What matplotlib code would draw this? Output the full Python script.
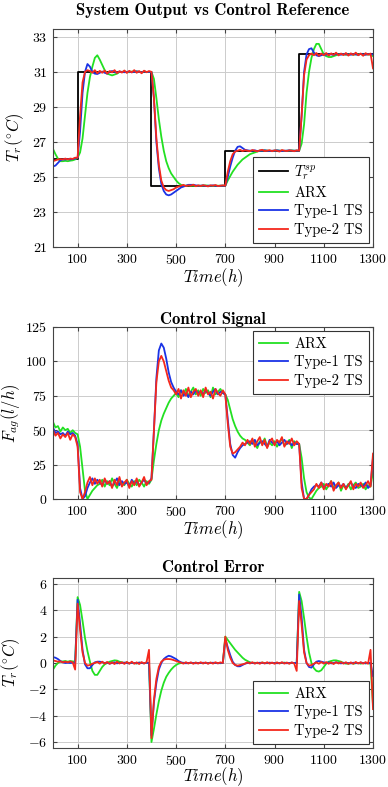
import matplotlib
matplotlib.use("Agg")
import matplotlib.pyplot as plt
import numpy as np

# time axis (h), one sample every 10 h
t = np.arange(0, 1301, 10)

# setpoint T_r^sp
sp_t = [0, 100, 100, 400, 400, 700, 700, 1000, 1000, 1300]
sp_v = [26, 26, 31, 31, 24.5, 24.5, 26.5, 26.5, 32, 32]

# system output T_r
tr_arx = [
    26.6, 26.3, 26.05, 25.9, 25.9, 25.92, 25.9, 25.93, 25.95, 26.0,
    26.1, 26.4, 27.2, 28.5, 29.8, 30.7, 31.3, 31.8, 31.95, 31.7,
    31.4, 31.1, 30.9, 30.85, 30.8, 30.85, 30.9, 31.0, 31.0, 31.02,
    31.0, 30.98, 31.02, 31.0, 31.03, 31.0, 30.98, 31.02, 31.0, 31.0,
    31.0, 30.6, 29.5, 28.3, 27.3, 26.5, 25.9, 25.5, 25.2, 25.0,
    24.8, 24.65, 24.55, 24.5, 24.5, 24.52, 24.5, 24.5, 24.48, 24.5,
    24.5, 24.5, 24.52, 24.5, 24.5, 24.48, 24.5, 24.5, 24.5, 24.5,
    24.5, 24.8, 25.05, 25.3, 25.5, 25.7, 25.85, 26.0, 26.1, 26.2,
    26.3, 26.35, 26.4, 26.45, 26.5, 26.5, 26.52, 26.5, 26.5, 26.48,
    26.5, 26.52, 26.5, 26.5, 26.48, 26.5, 26.5, 26.52, 26.5, 26.5,
    26.5, 26.9, 28.0, 29.8, 31.0, 31.8, 32.3, 32.6, 32.6, 32.3,
    32.0, 31.9, 31.85, 31.85, 31.9, 31.95, 32.0, 32.02, 32.0, 31.98,
    32.0, 32.02, 31.98, 32.0, 32.0, 32.02, 31.98, 32.0, 32.0, 31.98,
    31.9]
tr_t1 = [
    25.6, 25.65, 25.8, 25.95, 26.0, 26.0, 26.02, 26.0, 26.03, 26.05,
    26.1, 27.6, 29.8, 31.0, 31.45, 31.3, 31.0, 30.9, 30.88, 30.95,
    31.02, 30.95, 30.9, 31.0, 31.05, 31.0, 30.95, 31.02, 31.0, 30.98,
    31.0, 31.02, 30.98, 31.0, 31.03, 31.0, 30.98, 31.02, 31.0, 31.0,
    31.0, 29.5, 27.0, 25.5, 24.6, 24.2, 24.0, 23.95, 24.0, 24.1,
    24.2, 24.3, 24.4, 24.45, 24.5, 24.55, 24.55, 24.55, 24.52, 24.5,
    24.5, 24.52, 24.48, 24.5, 24.5, 24.52, 24.5, 24.48, 24.5, 24.5,
    24.5, 25.0, 25.6, 26.1, 26.5, 26.72, 26.75, 26.65, 26.55, 26.52,
    26.5, 26.5, 26.52, 26.48, 26.5, 26.5, 26.52, 26.5, 26.48, 26.5,
    26.5, 26.52, 26.5, 26.48, 26.5, 26.5, 26.52, 26.5, 26.5, 26.5,
    26.5, 28.5, 31.0, 32.0, 32.3, 32.35, 32.1, 31.95, 31.9, 31.95,
    32.0, 31.98, 32.02, 32.0, 31.97, 32.03, 32.0, 31.98, 32.02, 32.0,
    32.0, 31.98, 32.02, 32.0, 31.97, 32.03, 32.0, 31.98, 32.02, 32.0,
    32.0]
tr_t2 = [
    25.9, 25.95, 26.0, 26.02, 26.0, 26.05, 26.0, 26.05, 26.03, 26.1,
    26.1, 28.5, 30.4, 31.0, 31.1, 31.05, 30.95, 31.1, 30.92, 31.06,
    30.95, 31.08, 30.9, 31.05, 30.97, 31.1, 30.93, 31.04, 30.96, 31.08,
    30.94, 31.06, 30.97, 31.1, 30.95, 31.05, 30.92, 31.07, 30.98, 31.05,
    31.0, 29.5, 27.2, 25.7, 24.8, 24.4, 24.25, 24.2, 24.25, 24.3,
    24.4, 24.45, 24.5, 24.55, 24.48, 24.52, 24.5, 24.56, 24.47, 24.52,
    24.48, 24.53, 24.5, 24.46, 24.52, 24.5, 24.54, 24.48, 24.5, 24.52,
    24.5, 25.3, 25.9, 26.3, 26.45, 26.5, 26.55, 26.48, 26.53, 26.5,
    26.47, 26.54, 26.5, 26.46, 26.52, 26.55, 26.48, 26.5, 26.53, 26.47,
    26.52, 26.5, 26.45, 26.54, 26.5, 26.48, 26.52, 26.5, 26.47, 26.52,
    26.5, 28.5, 30.8, 31.7, 31.95, 32.05, 31.95, 32.08, 31.92, 32.05,
    31.95, 32.08, 31.93, 32.06, 31.97, 32.1, 31.94, 32.05, 31.96, 32.08,
    31.93, 32.06, 31.97, 32.1, 31.95, 32.05, 31.92, 32.07, 31.98, 32.05,
    31.2]

# control signal F_ag (l/h)
ctrl_arx = [
    56, 52, 53, 49, 52, 50, 51, 48, 50, 48,
    47, 38, 22, 6, 0, 3, 6, 8, 10, 11,
    14, 9, 13, 10, 15, 11, 8, 13, 12, 10,
    14, 11, 9, 13, 10, 14, 12, 9, 13, 11,
    14, 28, 40, 50, 57, 62, 66, 70, 73, 75,
    77, 74, 79, 76, 80, 75, 78, 81, 76, 79,
    75, 80, 77, 79, 74, 81, 76, 78, 80, 77,
    76, 72, 65, 58, 53, 49, 46, 44, 43, 41,
    39, 43, 40, 37, 42, 40, 44, 38, 41, 39,
    42, 38, 41, 44, 39, 40, 43, 37, 42, 40,
    40, 30, 15, 5, 1, 0, 3, 6, 8, 9,
    11, 7, 10, 13, 8, 9, 12, 6, 10, 8,
    11, 7, 10, 12, 8, 9, 11, 7, 10, 9,
    20]
ctrl_t1 = [
    52, 48, 49, 47, 48, 46, 49, 47, 48, 46,
    40, 8, 0, 2, 8, 12, 15, 11, 14, 12,
    10, 14, 11, 13, 9, 12, 15, 10, 13, 11,
    12, 9, 14, 11, 13, 10, 12, 14, 11, 12,
    15, 50, 88, 108, 113, 110, 102, 92, 85, 81,
    78, 76, 79, 75, 77, 74, 78, 76, 79, 77,
    78, 76, 79, 77, 75, 78, 80, 76, 78, 77,
    76, 58, 40, 32, 30, 34, 37, 39, 40, 41,
    42, 40, 43, 39, 41, 42, 40, 38, 43, 41,
    40, 42, 39, 41, 43, 40, 42, 39, 41, 40,
    40, 12, 0, 0, 3, 7, 9, 10, 9, 12,
    8, 10, 11, 9, 12, 8, 10, 9, 11, 8,
    10, 12, 9, 8, 11, 10, 9, 12, 8, 10,
    30]
ctrl_t2 = [
    50, 46, 48, 44, 47, 45, 48, 43, 47, 45,
    38, 5, 0, 5, 12, 16, 10, 15, 11, 14,
    9, 15, 11, 13, 8, 14, 10, 16, 9, 12,
    14, 8, 13, 10, 15, 9, 12, 16, 10, 13,
    14, 50, 85, 100, 104, 100, 93, 86, 81, 79,
    76, 80, 73, 79, 75, 81, 74, 78, 80, 75,
    79, 74, 81, 76, 78, 73, 80, 77, 75, 79,
    76, 55, 38, 33, 34, 36, 38, 41, 39, 43,
    40, 44, 38, 42, 45, 39, 43, 37, 42, 44,
    39, 43, 41, 45, 38, 42, 40, 44, 39, 42,
    40, 8, 0, 0, 3, 5, 7, 11, 8, 12,
    7, 11, 9, 13, 6, 10, 12, 8, 11, 7,
    10, 13, 7, 11, 9, 12, 8, 10, 13, 9,
    33]

# control error
err_arx = [
    -0.5, -0.2, 0.0, 0.1, 0.12, 0.15, 0.1, 0.15, 0.12, 0.1,
    5.0, 4.4, 3.2, 1.9, 0.9, 0.1, -0.6, -0.9, -0.9, -0.6,
    -0.3, -0.1, 0.0, 0.1, 0.15, 0.2, 0.18, 0.1, 0.05, 0.0,
    0.05, -0.03, 0.02, 0.0, -0.04, 0.03, 0.0, -0.02, 0.03, 0.0,
    -6.0, -5.0, -3.9, -2.9, -2.1, -1.5, -1.05, -0.75, -0.5, -0.3,
    -0.15, -0.05, 0.0, 0.02, 0.0, -0.02, 0.01, 0.0, 0.02, 0.0,
    0.0, -0.02, 0.01, 0.0, 0.02, -0.01, 0.0, 0.01, -0.02, 0.0,
    2.0, 1.75, 1.5, 1.25, 1.0, 0.8, 0.6, 0.4, 0.25, 0.15,
    0.05, 0.0, 0.02, -0.02, 0.0, 0.03, 0.0, -0.02, 0.02, 0.0,
    0.0, 0.02, -0.02, 0.0, 0.03, 0.0, -0.02, 0.02, 0.0, 0.0,
    5.4, 4.7, 3.4, 2.0, 0.8, 0.0, -0.4, -0.6, -0.65, -0.55,
    -0.3, -0.05, 0.1, 0.15, 0.2, 0.2, 0.15, 0.1, 0.0, -0.05,
    -0.05, 0.0, -0.05, -0.02, 0.0, -0.05, 0.0, -0.03, 0.0, -0.05,
    -3.2]
err_t1 = [
    0.45, 0.4, 0.3, 0.15, 0.05, 0.0, 0.02, 0.0, 0.02, 0.0,
    4.8, 3.0, 1.0, -0.1, -0.4, -0.4, -0.15, 0.05, 0.1, 0.1,
    0.05, 0.0, 0.03, -0.05, 0.0, 0.05, -0.03, 0.02, 0.0, 0.03,
    0.0, -0.03, 0.02, 0.0, -0.02, 0.03, 0.0, -0.02, 0.02, 0.0,
    -5.5, -3.0, -1.5, -0.5, 0.0, 0.3, 0.45, 0.55, 0.5, 0.4,
    0.3, 0.15, 0.05, 0.0, -0.02, 0.0, 0.02, 0.0, -0.02, 0.0,
    0.0, 0.02, 0.0, -0.02, 0.0, 0.02, 0.0, -0.02, 0.0, 0.0,
    1.8, 1.2, 0.6, 0.1, -0.15, -0.25, -0.25, -0.15, -0.05, 0.0,
    0.02, 0.0, -0.02, 0.0, 0.02, 0.0, -0.02, 0.0, 0.02, 0.0,
    0.0, -0.02, 0.0, 0.02, 0.0, -0.02, 0.0, 0.02, 0.0, 0.0,
    5.2, 3.5, 1.0, 0.0, -0.3, -0.35, -0.1, 0.1, 0.15, 0.1,
    0.05, 0.0, 0.05, -0.03, 0.0, 0.05, 0.0, -0.03, 0.02, 0.0,
    0.0, -0.03, 0.02, 0.0, -0.02, 0.03, 0.0, -0.02, 0.0, 0.0,
    -1.0]
err_t2 = [
    0.2, 0.15, 0.1, 0.12, 0.05, 0.1, 0.05, 0.12, 0.05, -0.5,
    4.5, 2.5, 0.8, 0.0, -0.2, -0.15, -0.05, 0.0, 0.08, -0.05,
    0.1, -0.05, 0.08, -0.06, 0.05, -0.08, 0.1, -0.04, 0.06, -0.07,
    0.08, -0.05, 0.1, -0.06, 0.05, -0.08, 0.07, -0.04, 0.06, 1.0,
    -5.7, -2.8, -1.2, -0.3, 0.1, 0.25, 0.3, 0.3, 0.28, 0.22,
    0.15, 0.08, 0.03, -0.05, 0.06, -0.04, 0.05, -0.06, 0.04, -0.05,
    0.06, -0.04, 0.05, -0.06, 0.04, -0.05, 0.06, -0.03, 0.05, 0.0,
    2.0, 1.0, 0.4, 0.0, -0.15, -0.2, -0.15, -0.1, -0.05, 0.05,
    -0.04, 0.06, -0.05, 0.04, -0.06, 0.05, -0.04, 0.06, -0.05, 0.04,
    -0.06, 0.05, -0.04, 0.06, -0.05, 0.04, -0.06, 0.05, -0.04, -0.6,
    4.7, 2.9, 0.8, 0.0, -0.2, -0.15, -0.05, 0.05, -0.06, 0.08,
    -0.05, 0.07, -0.06, 0.05, -0.08, 0.06, -0.04, 0.07, -0.05, 0.06,
    -0.07, 0.05, -0.06, 0.08, -0.04, 0.06, -0.05, 0.07, -0.06, 1.0,
    -3.5]

x_ticks = [100, 300, 500, 700, 900, 1100, 1300]
labels = ["ARX", "Type-1 TS", "Type-2 TS"]
colors = ["#22e022", "#1a33e6", "#f5281c"]

plt.rcParams["font.family"] = "serif"
plt.rcParams["font.serif"] = ["cmr10"]
plt.rcParams["mathtext.fontset"] = "cm"
plt.rcParams["axes.formatter.use_mathtext"] = True
plt.rcParams["font.size"] = 10

W, H = 388, 787
fig = plt.figure(figsize=(W / 100, H / 100), dpi=100)


def make_axes(top, bottom, xpad=0):
    ax = fig.add_axes([53 / W, (H - bottom) / H, 320 / W, (bottom - top) / H])
    ax.set_xlim(0, 1300)
    ax.set_xticks(x_ticks)
    ax.grid(True, color="#cccccc", lw=0.7)
    ax.set_axisbelow(True)
    for s in ax.spines.values():
        s.set_color("#444444")
        s.set_linewidth(0.8)
    ax.tick_params(direction="in", length=3, color="#444444", labelsize=10,
                   top=True, right=True, pad=4)
    ax.set_xlabel("$Time(h)$", fontsize=12, labelpad=xpad)
    return ax


def style_legend(ax, loc):
    leg = ax.legend(loc=loc, fancybox=False, framealpha=1, edgecolor="#333333",
                    fontsize=10.5, handlelength=2.0, borderaxespad=0.3,
                    labelspacing=0.3, borderpad=0.4, handletextpad=0.4)
    leg.get_frame().set_linewidth(0.8)


# panel 1
ax1 = make_axes(29, 247)
ax1.plot(sp_t, sp_v, color="black", lw=1.3, label="$T_r^{sp}$")
for y, lab, c in zip([tr_arx, tr_t1, tr_t2], labels, colors):
    ax1.plot(t, y, color=c, lw=1.3, label=lab)
ax1.set_ylim(21, 33.45)
ax1.set_yticks([21, 23, 25, 27, 29, 31, 33])
ax1.set_ylabel(r"$T_r(^{\circ}C)$", fontsize=12, labelpad=4)
ax1.set_title("System Output vs Control Reference", fontfamily="cmb10",
              fontsize=12, pad=10)
style_legend(ax1, "lower right")

# panel 2
ax2 = make_axes(327, 499)
for y, lab, c in zip([ctrl_arx, ctrl_t1, ctrl_t2], labels, colors):
    ax2.plot(t, y, color=c, lw=1.3, label=lab)
ax2.set_ylim(0, 125)
ax2.set_yticks([0, 25, 50, 75, 100, 125])
ax2.set_ylabel("$F_{ag}(l/h)$", fontsize=12, labelpad=2)
ax2.set_title("Control Signal", fontfamily="cmb10", fontsize=12, pad=2.5)
style_legend(ax2, "upper right")

# panel 3
ax3 = make_axes(578, 748, xpad=-1.5)
for y, lab, c in zip([err_arx, err_t1, err_t2], labels, colors):
    ax3.plot(t, y, color=c, lw=1.3, label=lab)
ax3.set_ylim(-6.45, 6.45)
ax3.set_yticks([-6, -4, -2, 0, 2, 4, 6])
ax3.set_ylabel(r"$T_r(^{\circ}C)$", fontsize=12, labelpad=4)
ax3.set_title("Control Error", fontfamily="cmb10", fontsize=12, pad=4)
style_legend(ax3, "lower right")

fig.savefig("out.png", dpi=100)
